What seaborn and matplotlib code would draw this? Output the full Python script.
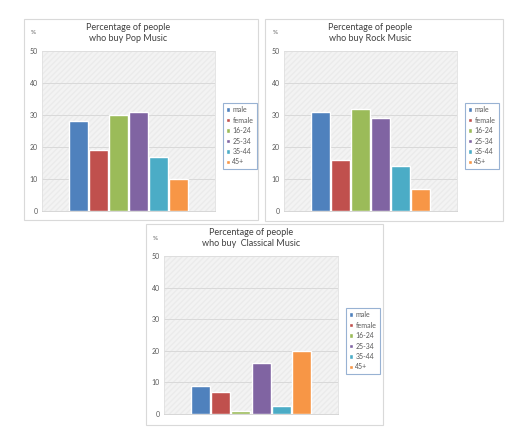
import pandas as pd
import seaborn as sns
import matplotlib.pyplot as plt
from matplotlib.patches import Rectangle

# data
groups = ['male', 'female', '16-24', '25-34', '35-44', '45+']
pop_values = [28, 19, 30, 31, 17, 10]
rock_values = [31, 16, 32, 29, 14, 7]
classical_values = [9, 7, 1, 16, 2.5, 20]
titles = ['Percentage of people\nwho buy Pop Music',
          'Percentage of people\nwho buy Rock Music',
          'Percentage of people\nwho buy  Classical Music']
yticks = [0, 10, 20, 30, 40, 50]

colors = ['#4F81BD', '#C0504D', '#9BBB59', '#8064A2', '#4BACC6', '#F79646']

sns.set_style('white')
plt.rcParams['font.family'] = ['Lato', 'DejaVu Sans']

W, H = 512, 445
fig = plt.figure(figsize=(W / 100, H / 100), dpi=100)

# pixel boxes: (frame l, t, r, b), (axes l, t, r, b), (legend l, t)
layout = [
    ((24, 19, 258, 220), (42, 51, 215, 211), (223, 103)),
    ((265, 19, 503, 221), (284, 51, 457, 211), (465, 103)),
    ((146, 224, 383, 425), (164, 256, 338, 414), (346, 308)),
]


def fx(x):
    return x / W


def fy(y):
    return 1 - y / H


for values, title, (frame, box, leg) in zip([pop_values, rock_values, classical_values], titles, layout):
    fl, ft, fr, fb = frame
    fig.patches.append(Rectangle((fx(fl), fy(fb)), fx(fr - fl), (fb - ft) / H,
                                 transform=fig.transFigure, facecolor='white',
                                 edgecolor='#d9d9d9', lw=0.8, zorder=-5))
    al, at, ar, ab = box
    ax = fig.add_axes([fx(al), fy(ab), fx(ar - al), (ab - at) / H])

    df = pd.DataFrame({'chart': 'x', 'group': groups, 'value': values})
    sns.barplot(data=df, x='chart', y='value', hue='group', hue_order=groups,
                palette=colors, width=0.70, gap=0.06, ax=ax, legend=True,
                saturation=1)

    ax.set_facecolor('#f3f3f3')
    ax.add_patch(Rectangle((0, 0), 1, 1, transform=ax.transAxes, facecolor='none',
                           edgecolor='#ebebeb', hatch='//////', lw=0, zorder=0))
    ax.set_xlim(-0.5, 0.5)
    ax.set_ylim(0, 50)
    ax.set_yticks(yticks)
    ax.set_xticks([])
    ax.set_xlabel('')
    ax.set_ylabel('')
    ax.tick_params(axis='y', labelsize=5, colors='#595959', length=0, pad=3)
    ax.yaxis.grid(True, color='#d9d9d9', lw=0.7)
    ax.set_axisbelow(True)
    for s in ax.spines.values():
        s.set_color('#e0e0e0')
        s.set_linewidth(0.6)
    ax.spines['bottom'].set_color('#d0d0d0')

    ax.set_title(title, fontsize=6.5, color='#404040', pad=7, linespacing=1.3)
    fig.text(fx(al - 11), fy(at - 18), '%', fontsize=4.5, color='#595959',
             ha='left', va='center')

    lx, ly = leg
    lg = ax.legend(loc='upper left', bbox_to_anchor=(fx(lx), fy(ly)),
                   bbox_transform=fig.transFigure, fontsize=5, frameon=True,
                   fancybox=False, handlelength=0.6, handleheight=0.6,
                   handletextpad=0.3, labelspacing=0.5, borderpad=0.45,
                   borderaxespad=0, labelcolor='#595959')
    lg.get_frame().set_edgecolor('#7f9fc8')
    lg.get_frame().set_linewidth(0.8)

fig.savefig('out.png', dpi=100, facecolor='white')
